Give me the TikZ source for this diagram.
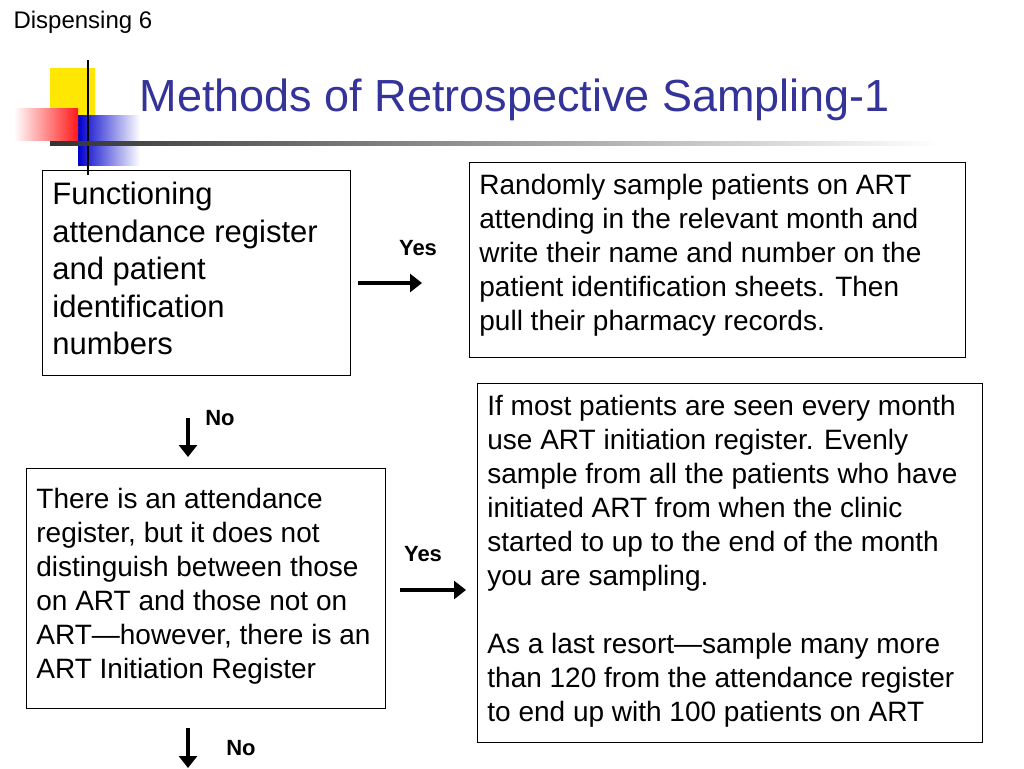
\documentclass[tikz,border=0pt]{standalone}
\usepackage{fontspec}
\setmainfont{Liberation Sans}
\usetikzlibrary{arrows.meta,positioning}
\definecolor{titleblue}{RGB}{51,51,153}
\tikzset{
  textbox/.style={draw=black, thick, align=left, anchor=north west, inner sep=10pt},
  flowarrow/.style={-{Triangle[length=12pt,width=18pt]}, line width=4pt},
  answer/.style={font=\fontsize{22}{26}\selectfont\bfseries}
}
\newcommand{\boxtext}[3]{\parbox[t][#2][t]{#1}{\raggedright\hyphenpenalty=10000 #3}}
\begin{document}
\begin{tikzpicture}[x=1pt,y=-1pt]
\useasboundingbox (0,0) rectangle (1024,768);
% logo and rule
\fill[yellow!90!orange] (50,68) rectangle (95,118);
\shade[left color=blue!80!black, right color=white] (78,115) rectangle (140,165);
\shade[left color=white, right color=red!90] (14,108) rectangle (78,140);
\draw[line width=1.5pt] (88,60) -- (88,175);
\shade[left color=black!80, right color=white] (50,141) rectangle (940,145);
% header
\node[anchor=west, font=\fontsize{24}{28}\selectfont] (page) at (10,22) {Dispensing 6};
\node[anchor=west, text=titleblue, font=\fontsize{45}{50}\selectfont] (title) at (136,100) {Methods of Retrospective Sampling-1};
% boxes
\node[textbox, font=\fontsize{31}{37.5}\selectfont] (reg) at (42,170)
  {\boxtext{288pt}{185pt}{\vspace*{2pt}Functioning\\attendance register\\and patient\\identification\\numbers}};
\node[textbox, font=\fontsize{28}{34}\selectfont] (rand) at (469,162)
  {\boxtext{476pt}{175pt}{\vspace*{2pt}Randomly sample patients on ART\\attending in the relevant month and\\write their name and number on the\\patient identification sheets. Then\\pull their pharmacy records.}};
\node[textbox, font=\fontsize{28}{34}\selectfont] (att) at (26,468)
  {\boxtext{339pt}{220pt}{\vspace*{10pt}There is an attendance\\register, but it does not\\distinguish between those\\on ART and those not on\\ART---however, there is an\\ART Initiation Register}};
\node[textbox, font=\fontsize{28}{34}\selectfont] (init) at (477,383)
  {\boxtext{485pt}{339pt}{\vspace*{2pt}If most patients are seen every month\\use ART initiation register. Evenly\\sample from all the patients who have\\initiated ART from when the clinic\\started to up to the end of the month\\you are sampling.\\[34pt]
   As a last resort---sample many more\\than 120 from the attendance register\\to end up with 100 patients on ART}};
% connectors
\coordinate (a1) at (358,283); \coordinate (a2) at (422,283);
\draw[flowarrow] (a1) -- (a2);
\node[answer] (yes1) at (418,248) {Yes};
\coordinate (b1) at (188,418); \coordinate (b2) at (188,457);
\draw[flowarrow] (b1) -- (b2);
\node[answer] (no1) at (220,418) {No};
\coordinate (c1) at (400,590); \coordinate (c2) at (466,590);
\draw[flowarrow] (c1) -- (c2);
\node[answer] (yes2) at (423,554) {Yes};
\coordinate (d1) at (188,728); \coordinate (d2) at (188,768);
\draw[flowarrow] (d1) -- (d2);
\node[answer] (no2) at (241,748) {No};
\end{tikzpicture}
\end{document}
